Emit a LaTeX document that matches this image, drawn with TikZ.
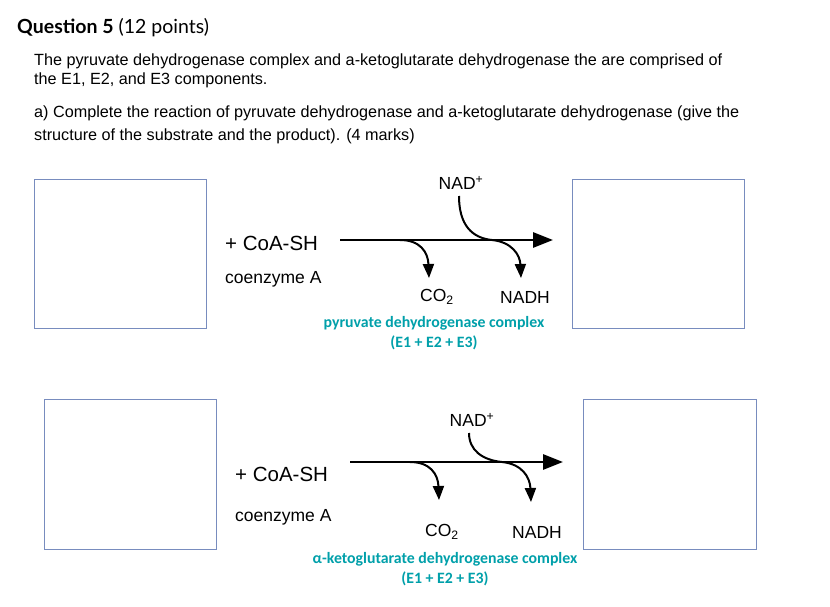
\documentclass[tikz,border=0pt]{standalone}
\usepackage{fontspec}
\setmainfont{Liberation Sans}
\newfontfamily\lato{Lato}
\newfontfamily\carl{Carlito}
\usetikzlibrary{arrows.meta}
\definecolor{teal1}{RGB}{0,160,170}
\definecolor{boxc}{RGB}{120,140,190}
\tikzset{
 box/.style={draw=boxc,line width=0.8pt},
 body/.style={anchor=west,font=\fontsize{16.2}{18}\selectfont,inner sep=0},
 lbl/.style={font=\fontsize{20.5}{22}\selectfont,inner sep=0},
 sm/.style={font=\fontsize{17.5}{19}\selectfont,inner sep=0},
 tl/.style={font=\carl\bfseries\fontsize{15.8}{18}\selectfont,text=teal1,inner sep=0},
 main/.style={line width=2.8pt,-{Triangle[length=20pt,width=15pt]}},
 side/.style={line width=2pt,-{Triangle[length=14pt,width=11pt]}},
}
\begin{document}
\begin{tikzpicture}[x=1pt,y=-1pt]
\useasboundingbox[fill=white] (0,0) rectangle (830,606);
\node[anchor=west,inner sep=0,font=\lato\fontsize{19.5}{21}\selectfont] (title) at (17,28) {\textbf{Question 5} (12 points)};
\node[body] (t1) at (34,61) {The pyruvate dehydrogenase complex and a-ketoglutarate dehydrogenase the are comprised of};
\node[body] (t2) at (34,80) {the E1, E2, and E3 components.};
\node[body] (t3) at (34,113) {a) Complete the reaction of pyruvate dehydrogenase and a-ketoglutarate dehydrogenase (give the};
\node[body] (t4) at (34,136) {structure of the substrate and the product). (4 marks)};
% top reaction
\draw[box] (34,179) rectangle (206,328);
\draw[box] (572,179) rectangle (744,328);
\node[lbl,anchor=west] (coa1) at (225,243) {+ CoA-SH};
\node[sm,anchor=west] (cz1) at (225,279) {coenzyme A};
\node[sm] (nad1) at (461,183) {NAD\textsuperscript{+}};
\node[sm] (co21) at (437,297) {CO\textsubscript{2}};
\node[sm] (nadh1) at (525,297) {NADH};
\coordinate (s1) at (340,240);
\coordinate (e1) at (553,240);
\draw[main] (s1) -- (e1);
\draw[side] (400,240) .. controls (420,240) and (428,252) .. (429,278);
\draw[side] (459,196) .. controls (459,225) and (472,238) .. (492,240) .. controls (512,242) and (520,255) .. (521,278);
\node[tl] (pn1) at (434,323) {pyruvate dehydrogenase complex};
\node[tl] (pe1) at (434,343) {(E1 + E2 + E3)};
% bottom reaction
\draw[box] (44,399) rectangle (216,549);
\draw[box] (583,399) rectangle (756,549);
\node[lbl,anchor=west] (coa2) at (235,474) {+ CoA-SH};
\node[sm,anchor=west] (cz2) at (235,517) {coenzyme A};
\node[sm] (nad2) at (472,420) {NAD\textsuperscript{+}};
\node[sm] (co22) at (442,532) {CO\textsubscript{2}};
\node[sm] (nadh2) at (537,532) {NADH};
\coordinate (s2) at (350,462);
\coordinate (e2) at (563,462);
\draw[main] (s2) -- (e2);
\draw[side] (410,462) .. controls (430,462) and (438,474) .. (439,500);
\draw[side] (469,433) .. controls (469,450) and (482,460) .. (502,462) .. controls (522,464) and (530,477) .. (531,502);
\node[tl] (pn2) at (445,559) {α-ketoglutarate dehydrogenase complex};
\node[tl] (pe2) at (445,579) {(E1 + E2 + E3)};
\end{tikzpicture}
\end{document}
